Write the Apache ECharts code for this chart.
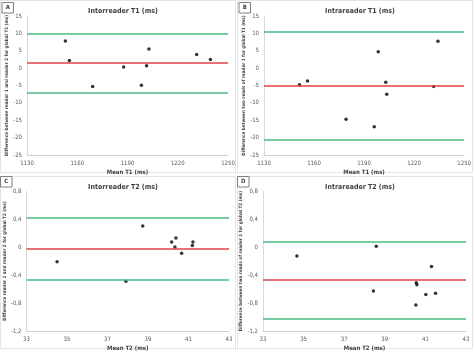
<!DOCTYPE html>
<html>
<head>
<meta charset="utf-8">
<script src="https://cdn.jsdelivr.net/npm/echarts@6/dist/echarts.min.js"></script>
<style>
  html, body { margin: 0; padding: 0; background: #fff; }
  #main { width: 474px; height: 353px; }
</style>
</head>
<body>
<div id="main"></div>
<script>
// A: interreader T1
var interT1Mean = [1152.9, 1155.3, 1169.2, 1187.7, 1198.3, 1201.4, 1202.8, 1231.3, 1239.5];
var interT1Diff = [7.8, 2.2, -5.3, 0.3, -4.9, 0.7, 5.5, 3.9, 2.5];
var interT1Limits = [10.0, 1.5, -7.2]; // upper, bias, lower

// B: intrareader T1
var intraT1Mean = [1151.3, 1156.1, 1179.2, 1196.1, 1198.5, 1203.0, 1203.6, 1231.7, 1234.3];
var intraT1Diff = [-4.8, -3.7, -14.7, -16.9, 4.7, -4.1, -7.5, -5.3, 7.7];
var intraT1Limits = [10.6, -5.0, -20.7];

// C: interreader T2
var interT2Mean = [34.51, 37.91, 38.74, 40.17, 40.38, 40.33, 40.66, 41.19, 41.22];
var interT2Diff = [-0.21, -0.49, 0.30, 0.07, 0.13, 0.00, -0.09, 0.02, 0.07];
var interT2Limits = [0.42, -0.025, -0.465];

// D: intrareader T2
var intraT2Mean = [34.67, 38.44, 38.58, 40.53, 40.55, 40.58, 41.02, 41.30, 41.50];
var intraT2Diff = [-0.13, -0.63, 0.01, -0.83, -0.51, -0.54, -0.68, -0.28, -0.66];
var intraT2Limits = [0.074, -0.474, -1.019];

var panelLetters = ['A', 'B', 'C', 'D'];
var panelTitles = ['Interreader T1 (ms)', 'Intrareader T1 (ms)', 'Interreader T2 (ms)', 'Intrareader T2 (ms)'];
var xNames = ['Mean T1 (ms)', 'Mean T1 (ms)', 'Mean T2 (ms)', 'Mean T2 (ms)'];
var yNames = [
  'Difference between reader 1 and reader 2 for global T1 (ms)',
  'Difference between two reads of reader 1 for global T1 (ms)',
  'Difference reader 1 and reader 2 for global T2 (ms)',
  'Difference between two reads of reader 1 for global T2 (ms)'
];

var panels = [
  { mean: interT1Mean, diff: interT1Diff, lim: interT1Limits, x: [1130, 1250, 30], y: [-25, 15, 5] },
  { mean: intraT1Mean, diff: intraT1Diff, lim: intraT1Limits, x: [1130, 1250, 30], y: [-25, 15, 5] },
  { mean: interT2Mean, diff: interT2Diff, lim: interT2Limits, x: [33, 43, 2], y: [-1.2, 0.8, 0.4] },
  { mean: intraT2Mean, diff: intraT2Diff, lim: intraT2Limits, x: [33, 43, 2], y: [-1.2, 0.8, 0.4] }
];

var FONT = "'Liberation Sans Narrow', 'DejaVu Sans Condensed', 'Liberation Sans', sans-serif";
var GREEN = '#4dba86';
var RED = '#e0404a';

var boxes = [[0, 0], [237, 0], [0, 176], [237, 176]];
var grids = [
  { left: 27, top: 16, width: 201, height: 139 },
  { left: 264, top: 16, width: 201, height: 139 },
  { left: 26.5, top: 191, width: 202.5, height: 140 },
  { left: 263, top: 191, width: 203, height: 140 }
];

function fmt(v) {
  return String(Math.round(v * 10) / 10).replace('.', ',');
}

var xAxes = [], yAxes = [], series = [], titles = [], graphics = [];

panels.forEach(function (p, i) {
  xAxes.push({
    gridIndex: i, type: 'value', min: p.x[0], max: p.x[1], interval: p.x[2],
    name: xNames[i], nameLocation: 'middle', nameGap: 14,
    nameTextStyle: { fontFamily: FONT, fontSize: 6, fontWeight: 'bold', color: '#404040' },
    axisLine: { onZero: false, lineStyle: { color: '#d0d0d0', width: 1 } },
    axisTick: { show: false },
    splitLine: { show: false },
    axisLabel: { fontFamily: FONT, fontSize: 6, color: '#595959', margin: 5, formatter: function (v) { return String(v); } }
  });
  yAxes.push({
    gridIndex: i, type: 'value', min: p.y[0], max: p.y[1], interval: p.y[2],
    name: yNames[i], nameLocation: 'middle', nameGap: 17,
    nameTextStyle: { fontFamily: FONT, fontSize: 4.6, fontWeight: 'bold', color: '#404040' },
    axisLine: { show: true, onZero: false, lineStyle: { color: '#d9d9d9', width: 1 } },
    axisTick: { show: false },
    splitLine: { show: false },
    axisLabel: { fontFamily: FONT, fontSize: 6, color: '#595959', margin: 5, formatter: fmt }
  });
  series.push({
    type: 'scatter', xAxisIndex: i, yAxisIndex: i, symbolSize: 3.5,
    itemStyle: { color: '#000' },
    data: p.mean.map(function (m, k) { return [m, p.diff[k]]; }),
    markLine: {
      silent: true, symbol: 'none', animation: false,
      label: { show: false },
      data: [
        { yAxis: p.lim[0], lineStyle: { color: GREEN, width: 1.5, type: 'solid' } },
        { yAxis: p.lim[1], lineStyle: { color: RED, width: 1.5, type: 'solid' } },
        { yAxis: p.lim[2], lineStyle: { color: GREEN, width: 1.5, type: 'solid' } }
      ]
    }
  });
  titles.push({
    text: panelTitles[i], left: boxes[i][0] + 118, top: boxes[i][1] + 3, textAlign: 'center',
    textStyle: { fontFamily: FONT, fontSize: 7, fontWeight: 'bold', color: '#404040' }
  });
  graphics.push({
    type: 'rect', silent: true,
    shape: { x: boxes[i][0] + 0.5, y: boxes[i][1] + 0.5, width: 235, height: 172 },
    style: { fill: 'none', stroke: '#e4e4e4', lineWidth: 1 }
  });
  graphics.push({
    type: 'rect', silent: true, z: 10,
    shape: { x: boxes[i][0] + (i < 2 ? 2 : 0.5), y: boxes[i][1] + (i < 2 ? 2.5 : 0.5), width: 11.5, height: 10.5 },
    style: { fill: '#fff', stroke: '#7f7f7f', lineWidth: 1 }
  });
  graphics.push({
    type: 'text', silent: true, z: 11,
    x: boxes[i][0] + (i < 2 ? 7.75 : 6.25), y: boxes[i][1] + (i < 2 ? 7.75 : 5.75),
    style: { text: panelLetters[i], fontFamily: FONT, fontSize: 6, fontWeight: 'bold', fill: '#404040', align: 'center', verticalAlign: 'middle' }
  });
});

var chart = echarts.init(document.getElementById('main'));
chart.setOption({
  animation: false,
  backgroundColor: '#fff',
  title: titles,
  grid: grids,
  xAxis: xAxes,
  yAxis: yAxes,
  series: series,
  graphic: graphics
});
</script>
</body>
</html>
